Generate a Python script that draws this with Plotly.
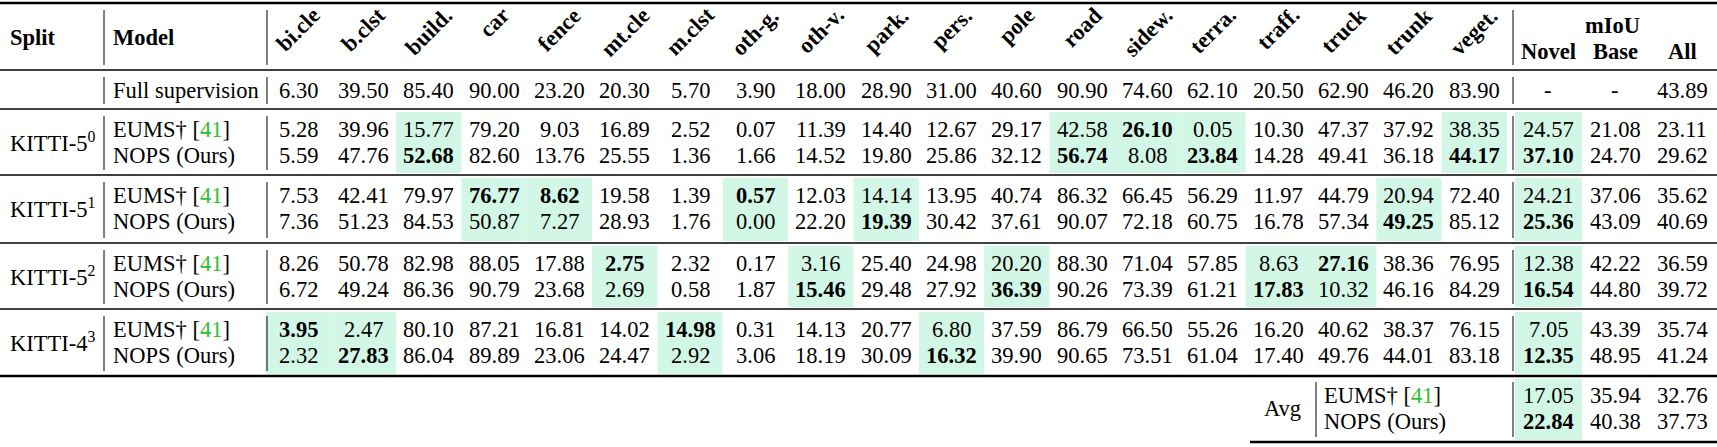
import plotly.graph_objects as go

# ---- data ----
classes = ["bi.cle", "b.clst", "build.", "car", "fence", "mt.cle", "m.clst", "oth-g.",
           "oth-v.", "park.", "pers.", "pole", "road", "sidew.", "terra.", "traff.",
           "truck", "trunk", "veget."]
miou_cols = ["Novel", "Base", "All"]

full_sup = [6.30, 39.50, 85.40, 90.00, 23.20, 20.30, 5.70, 3.90, 18.00, 28.90,
            31.00, 40.60, 90.90, 74.60, 62.10, 20.50, 62.90, 46.20, 83.90]
full_sup_miou = [None, None, 43.89]

splits = ["KITTI-5<sup>0</sup>", "KITTI-5<sup>1</sup>", "KITTI-5<sup>2</sup>", "KITTI-4<sup>3</sup>"]
models = ["EUMS† [<span style='color:#2fbf2f'>41</span>]", "NOPS (Ours)"]

eums = [
    [5.28, 39.96, 15.77, 79.20, 9.03, 16.89, 2.52, 0.07, 11.39, 14.40, 12.67, 29.17, 42.58, 26.10, 0.05, 10.30, 47.37, 37.92, 38.35],
    [7.53, 42.41, 79.97, 76.77, 8.62, 19.58, 1.39, 0.57, 12.03, 14.14, 13.95, 40.74, 86.32, 66.45, 56.29, 11.97, 44.79, 20.94, 72.40],
    [8.26, 50.78, 82.98, 88.05, 17.88, 2.75, 2.32, 0.17, 3.16, 25.40, 24.98, 20.20, 88.30, 71.04, 57.85, 8.63, 27.16, 38.36, 76.95],
    [3.95, 2.47, 80.10, 87.21, 16.81, 14.02, 14.98, 0.31, 14.13, 20.77, 6.80, 37.59, 86.79, 66.50, 55.26, 16.20, 40.62, 38.37, 76.15],
]
nops = [
    [5.59, 47.76, 52.68, 82.60, 13.76, 25.55, 1.36, 1.66, 14.52, 19.80, 25.86, 32.12, 56.74, 8.08, 23.84, 14.28, 49.41, 36.18, 44.17],
    [7.36, 51.23, 84.53, 50.87, 7.27, 28.93, 1.76, 0.00, 22.20, 19.39, 30.42, 37.61, 90.07, 72.18, 60.75, 16.78, 57.34, 49.25, 85.12],
    [6.72, 49.24, 86.36, 90.79, 23.68, 2.69, 0.58, 1.87, 15.46, 29.48, 27.92, 36.39, 90.26, 73.39, 61.21, 17.83, 10.32, 46.16, 84.29],
    [2.32, 27.83, 86.04, 89.89, 23.06, 24.47, 2.92, 3.06, 18.19, 30.09, 16.32, 39.90, 90.65, 73.51, 61.04, 17.40, 49.76, 44.01, 83.18],
]
eums_miou = [[24.57, 21.08, 23.11], [24.21, 37.06, 35.62], [12.38, 42.22, 36.59], [7.05, 43.39, 35.74]]
nops_miou = [[37.10, 24.70, 29.62], [25.36, 43.09, 40.69], [16.54, 44.80, 39.72], [12.35, 48.95, 41.24]]

# novel classes of each split (highlighted)
novel = [
    ["build.", "road", "sidew.", "terra.", "veget."],
    ["car", "fence", "oth-g.", "park.", "trunk"],
    ["mt.cle", "oth-v.", "pole", "traff.", "truck"],
    ["bi.cle", "b.clst", "m.clst", "pers."],
]

avg_eums = [17.05, 35.94, 32.76]
avg_nops = [22.84, 40.38, 37.73]

# ---- layout constants ----
W, H = 1717, 447
FONT = "Liberation Serif"
FS = 22.5
HL = "rgb(211,247,230)"
COL_X0, COL_DX = 298, 65.35
MIOU_X = [1548, 1615, 1682]
SPLIT_X, MODEL_X = 8, 111
VLINES = [104, 267, 1513]
RULES = [3, 70, 109, 175, 243, 309, 376]
AVG_RULE = 442
AVG_LINE_X = 1316
LABEL_TOP = 0

col_x = [COL_X0 + i * COL_DX for i in range(len(classes))]

shapes = []
ann = []


def txt(x, y, s, anchor="center", bold=False, size=FS, **kw):
    if bold:
        s = "<b>" + s + "</b>"
    ann.append(dict(x=x, y=y, xref="x", yref="y", text=s, showarrow=False,
                    xanchor=anchor, yanchor="middle",
                    font=dict(family=FONT, size=size, color="black"), **kw))


def hline(y, x0=0, x1=W, w=1.6):
    shapes.append(dict(type="line", xref="x", yref="y", x0=x0, x1=x1, y0=y, y1=y,
                       line=dict(color="black", width=w)))


def vline(x, y0, y1):
    shapes.append(dict(type="line", xref="x", yref="y", x0=x, x1=x, y0=y0, y1=y1,
                       line=dict(color="black", width=1)))


def fill(x0, x1, y0, y1):
    shapes.append(dict(type="rect", xref="x", yref="y", x0=x0, x1=x1, y0=y0, y1=y1,
                       fillcolor=HL, line=dict(width=0), layer="below"))


def fmt(v):
    return "-" if v is None else f"{v:.2f}"


# rules
for i, r in enumerate(RULES):
    hline(r, w=2.4 if i in (0, len(RULES) - 1) else 1.7)
hline(AVG_RULE, x0=1250, w=2.4)

# vertical separators
for a, b in zip(RULES[:-1], RULES[1:]):
    for x in VLINES:
        vline(x, a + 7, b - 5)
vline(AVG_LINE_X, RULES[-1] + 6, AVG_RULE - 5)
vline(VLINES[2], RULES[-1] + 6, AVG_RULE - 5)

# header
txt(SPLIT_X, 37, "Split", anchor="left", bold=True)
txt(MODEL_X, 37, "Model", anchor="left", bold=True)
for x, c in zip(col_x, classes):
    ann.append(dict(x=x, y=LABEL_TOP, xref="x", yref="y", text="<b>" + c + "</b>", showarrow=False,
                    xanchor="center", yanchor="top", textangle=-45,
                    font=dict(family=FONT, size=FS, color="black")))
txt(1612, 25, "mIoU", bold=True)
for x, c in zip(MIOU_X, miou_cols):
    txt(x, 51, c, bold=True)

# full supervision
y_full = (RULES[1] + RULES[2]) / 2 + 1
txt(MODEL_X, y_full, "Full supervision", anchor="left")
for x, v in zip(col_x, full_sup):
    txt(x, y_full, fmt(v))
for x, v in zip(MIOU_X, full_sup_miou):
    txt(x, y_full, fmt(v))

# split blocks
for g in range(len(splits)):
    top, bot = RULES[g + 2], RULES[g + 3]
    ys = [top + 20, top + 46]
    txt(SPLIT_X, (ys[0] + ys[1]) / 2, splits[g], anchor="left")
    for k in range(2):
        txt(MODEL_X, ys[k], models[k], anchor="left")
    rows = [eums[g], nops[g]]
    for i, c in enumerate(classes):
        hi = c in novel[g]
        if hi:
            fill(col_x[i] - COL_DX / 2, col_x[i] + COL_DX / 2, top + 3, bot - 2)
        best = max(rows[0][i], rows[1][i])
        for k in range(2):
            txt(col_x[i], ys[k], fmt(rows[k][i]), bold=hi and rows[k][i] == best)
    mrows = [eums_miou[g], nops_miou[g]]
    fill(MIOU_X[0] - 33, MIOU_X[0] + 34, top + 3, bot - 2)
    best = max(mrows[0][0], mrows[1][0])
    for j, x in enumerate(MIOU_X):
        for k in range(2):
            txt(x, ys[k], fmt(mrows[k][j]), bold=(j == 0 and mrows[k][j] == best))

# average block
top = RULES[-1]
ys = [top + 19, top + 45]
txt(1303, (ys[0] + ys[1]) / 2, "Avg", anchor="right")
fill(MIOU_X[0] - 33, MIOU_X[0] + 34, top + 3, AVG_RULE - 2)
avg_rows = [avg_eums, avg_nops]
for k in range(2):
    txt(AVG_LINE_X + 6, ys[k], models[k], anchor="left")
    for j, x in enumerate(MIOU_X):
        txt(x, ys[k], fmt(avg_rows[k][j]), bold=(j == 0 and avg_rows[k][j] == max(avg_eums[0], avg_nops[0])))

fig = go.Figure()
fig.add_trace(go.Scatter(x=[0, W], y=[0, H], mode="markers", marker=dict(opacity=0),
                         hoverinfo="skip", showlegend=False))
fig.update_layout(
    width=W, height=H,
    margin=dict(l=0, r=0, t=0, b=0),
    paper_bgcolor="white", plot_bgcolor="white",
    xaxis=dict(range=[0, W], visible=False, fixedrange=True),
    yaxis=dict(range=[H, 0], visible=False, fixedrange=True),
    shapes=shapes, annotations=ann, showlegend=False,
)
fig.write_html("out.html", config={"displayModeBar": False},
               post_script="document.body.style.margin='0';document.body.style.overflow='hidden';")
